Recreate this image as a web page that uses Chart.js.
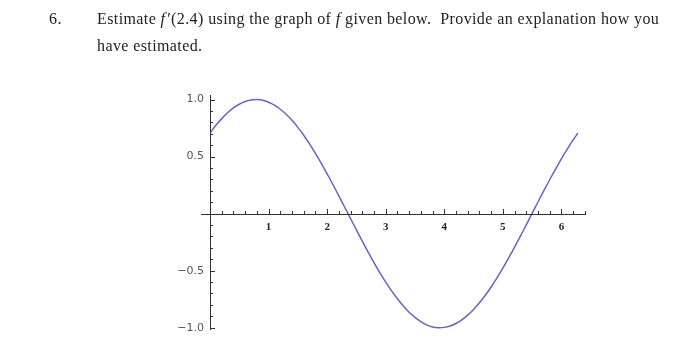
<!DOCTYPE html>
<html>
<head>
<meta charset="utf-8">
<script src="https://cdn.jsdelivr.net/npm/chart.js@4/dist/chart.umd.min.js"></script>
<style>
html,body{margin:0;padding:0;background:#fff;}
#wrap{position:relative;width:696px;height:364px;overflow:hidden;}
#c{position:absolute;left:0;top:0;}
.q{position:absolute;font-family:"Liberation Serif","DejaVu Serif",serif;font-size:16px;letter-spacing:0.4px;color:#222;white-space:nowrap;}
</style>
</head>
<body>
<div id="wrap">
<canvas id="c" width="696" height="364"></canvas>
<div class="q" style="left:49px;top:10px;">6.</div>
<div class="q" style="left:97px;top:10px;">Estimate <i>f&#8202;</i>′(2.4) using the graph of <i>f</i> given below.&nbsp; Provide an explanation how you</div>
<div class="q" style="left:97px;top:37px;">have estimated.</div>
</div>
<script>
const xValues = [0, 0.1, 0.2, 0.3, 0.4, 0.5, 0.6, 0.7, 0.8, 0.9, 1.0, 1.1, 1.2, 1.3, 1.4, 1.5, 1.6, 1.7, 1.8, 1.9, 2.0, 2.1, 2.2, 2.3, 2.4, 2.5, 2.6, 2.7, 2.8, 2.9, 3.0, 3.1, 3.2, 3.3, 3.4, 3.5, 3.6, 3.7, 3.8, 3.9, 4.0, 4.1, 4.2, 4.3, 4.4, 4.5, 4.6, 4.7, 4.8, 4.9, 5.0, 5.1, 5.2, 5.3, 5.4, 5.5, 5.6, 5.7, 5.8, 5.9, 6.0, 6.1, 6.2, 6.28];
const fValues = [0.707, 0.774, 0.833, 0.884, 0.927, 0.959, 0.983, 0.996, 1.000, 0.994, 0.977, 0.951, 0.915, 0.871, 0.818, 0.756, 0.687, 0.611, 0.528, 0.441, 0.349, 0.254, 0.156, 0.056, -0.043, -0.143, -0.241, -0.337, -0.429, -0.518, -0.601, -0.677, -0.746, -0.809, -0.864, -0.909, -0.946, -0.975, -0.993, -1.000, -0.997, -0.985, -0.963, -0.931, -0.890, -0.840, -0.782, -0.716, -0.643, -0.563, -0.478, -0.388, -0.294, -0.197, -0.098, 0.002, 0.102, 0.201, 0.297, 0.391, 0.481, 0.566, 0.646, 0.705];
const xTickLabels = ['1', '2', '3', '4', '5', '6'];
const yTickValues = [1.0, 0.5, -0.5, -1.0];
const yTickLabels = ['1.0', '0.5', '\u22120.5', '\u22121.0'];

const axesPlugin = {
  id: 'mathAxes',
  afterDatasetsDraw(chart) {
    const ctx = chart.ctx;
    const xs = chart.scales.x, ys = chart.scales.y;
    const x0 = xs.getPixelForValue(0);
    const y0 = ys.getPixelForValue(0);
    ctx.save();
    ctx.strokeStyle = '#333';
    ctx.lineWidth = 1;
    ctx.beginPath();
    ctx.moveTo(x0 - 9, Math.round(y0) + 0.5);
    ctx.lineTo(xs.right, Math.round(y0) + 0.5);
    ctx.stroke();
    ctx.beginPath();
    ctx.moveTo(Math.round(x0) + 0.5, ys.top);
    ctx.lineTo(Math.round(x0) + 0.5, ys.bottom);
    ctx.stroke();
    for (let i = 1; i <= 32; i++) {
      const v = i * 0.2;
      if (v > xs.max) break;
      const px = Math.round(xs.getPixelForValue(v)) + 0.5;
      const major = i % 5 === 0;
      ctx.beginPath();
      ctx.moveTo(px, Math.round(y0));
      ctx.lineTo(px, Math.round(y0) - (major ? 5 : 3));
      ctx.stroke();
    }
    for (let i = -10; i <= 10; i++) {
      if (i === 0) continue;
      const v = i * 0.1;
      const py = Math.round(ys.getPixelForValue(v)) + 0.5;
      const major = i % 5 === 0;
      ctx.beginPath();
      ctx.moveTo(Math.round(x0), py);
      ctx.lineTo(Math.round(x0) + (major ? 5 : 3), py);
      ctx.stroke();
    }
    ctx.fillStyle = '#222';
    ctx.font = 'bold 11px "Liberation Serif", serif';
    ctx.textAlign = 'center';
    ctx.textBaseline = 'middle';
    xTickLabels.forEach((t, k) => {
      ctx.fillText(t, xs.getPixelForValue(k + 1), y0 + 14);
    });
    ctx.fillStyle = '#555';
    ctx.font = '11px "DejaVu Sans", sans-serif';
    ctx.textAlign = 'right';
    yTickValues.forEach((v, k) => {
      ctx.fillText(yTickLabels[k], x0 - 6, ys.getPixelForValue(v));
    });
    ctx.restore();
  }
};

new Chart(document.getElementById('c'), {
  type: 'line',
  data: {
    datasets: [{
      data: xValues.map((x, i) => ({x: x, y: fValues[i]})),
      borderColor: '#6c62c4',
      borderWidth: 1.5,
      pointRadius: 0,
      tension: 0.3,
      fill: false
    }]
  },
  options: {
    responsive: false,
    animation: false,
    layout: {padding: {left: 210, right: 110, top: 95, bottom: 34}},
    plugins: {legend: {display: false}, tooltip: {enabled: false}},
    scales: {
      x: {type: 'linear', min: 0, max: 6.42, display: false},
      y: {type: 'linear', min: -1.02, max: 1.04, display: false}
    }
  },
  plugins: [axesPlugin]
});
</script>
</body>
</html>
